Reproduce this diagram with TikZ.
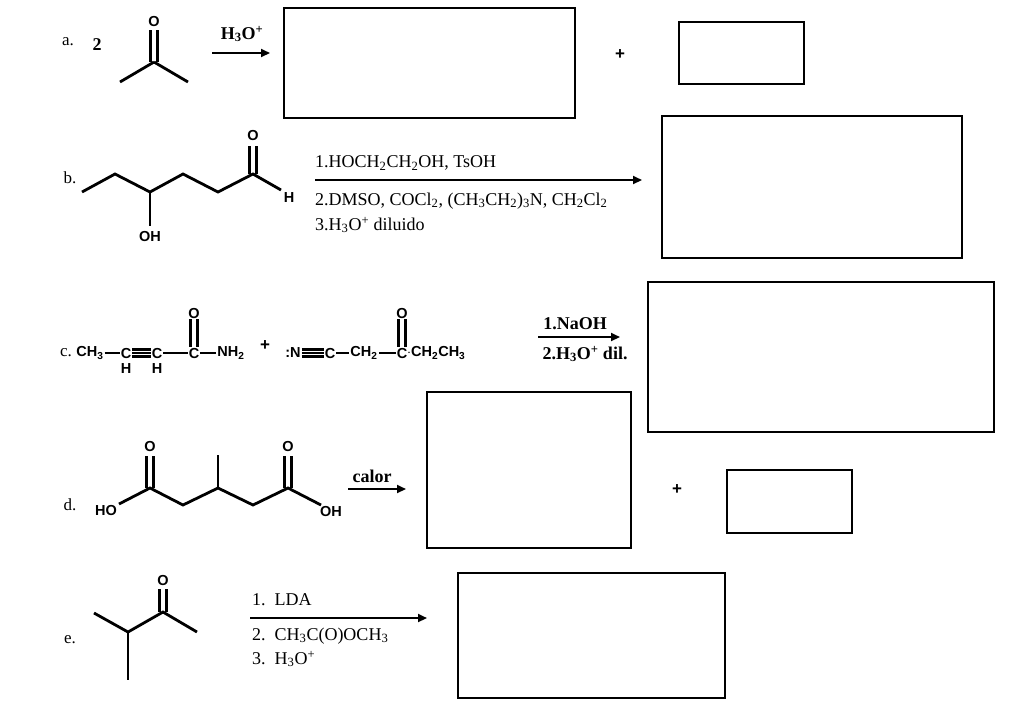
\documentclass[tikz,border=0pt]{standalone}
\usepackage{fontspec}
\usetikzlibrary{arrows.meta}
\setmainfont{Liberation Serif}
\newfontfamily\atomf{Liberation Sans}
\begin{document}
\begin{tikzpicture}[x=1pt,y=-1pt,
  bond/.style={line width=2.8pt},
  box/.style={draw,line width=2.8pt},
  rxn/.style={line width=2pt,-{Triangle[length=9pt,width=8pt]}},
  atom/.style={font=\atomf\bfseries\fontsize{14.5}{14.5}\selectfont,inner sep=1pt},
  lbl/.style={font=\fontsize{17}{17}\selectfont,inner sep=0pt},
  rg/.style={font=\fontsize{18}{21}\selectfont,inner sep=0pt,anchor=west}]
\useasboundingbox (0,0) rectangle (1024,713);
% a
\node[lbl] (la) at (68,42) {a.};
\node[lbl,font=\bfseries\fontsize{18}{18}\selectfont] (n2) at (97,45) {2};
\node[atom] (oa) at (154,22) {O};
\coordinate (ca) at (154,62);
\draw[bond] (ca) -- (120,82) (ca) -- (188,82);
\draw[bond] (150.5,30) -- (150.5,62) (157.5,30) -- (157.5,62);
\coordinate (a1) at (212,53); \coordinate (a2) at (270,53);
\draw[rxn] (a1) -- (a2);
\node[lbl,font=\bfseries\fontsize{18}{18}\selectfont] (ta) at (242,34) {H\textsubscript{3}O\textsuperscript{+}};
\node[box,minimum width=291,minimum height=110] (ba) at (429.5,63) {};
\node[atom,font=\atomf\bfseries\fontsize{17}{17}\selectfont] (pa) at (620,55) {+};
\node[box,minimum width=125,minimum height=62] (ba2) at (741.5,53) {};
% b
\node[lbl] (lb) at (70,178) {b.};
\draw[bond] (82,192)--(115,174)--(150,192)--(183,174)--(218,192)--(253,174)--(281,190);
\draw[bond] (150,192)--(150,226);
\draw[bond] (249.5,174)--(249.5,146) (256.5,174)--(256.5,146);
\node[atom] (ob) at (253,136) {O};
\node[atom] (hb) at (289,198) {H};
\node[atom] (ohb) at (150,237) {OH};
\coordinate (b1) at (315,180); \coordinate (b2) at (642,180);
\draw[rxn] (b1) -- (b2);
\node[rg] (tb1) at (315,163) {1.HOCH\textsubscript{2}CH\textsubscript{2}OH, TsOH};
\node[rg] (tb2) at (315,201) {2.DMSO, COCl\textsubscript{2}, (CH\textsubscript{3}CH\textsubscript{2})\textsubscript{3}N, CH\textsubscript{2}Cl\textsubscript{2}};
\node[rg] (tb3) at (315,225) {3.H\textsubscript{3}O\textsuperscript{+} diluido};
\node[box,minimum width=300,minimum height=142] (bb) at (812,187) {};
% c
\node[lbl,anchor=west] (lc) at (60,353) {c.};
\node[atom] (c1) at (90,353) {CH\textsubscript{3}};
\node[atom] (c2) at (126,353) {C};
\node[atom] (c3) at (157,353) {C};
\node[atom] (c4) at (194,353) {C};
\node[atom] (c5) at (231,353) {NH\textsubscript{2}};
\node[atom] (h2) at (126,369) {H};
\node[atom] (h3) at (157,369) {H};
\node[atom] (oc) at (194,313) {O};
\draw[bond] (c1) -- (c2);
\draw[line width=2.2pt] ([yshift=-3.5]c2.east) -- ([yshift=-3.5]c3.west) (c2.east) -- (c3.west) ([yshift=3.5]c2.east) -- ([yshift=3.5]c3.west);
\draw[bond] (c3) -- (c4); \draw[bond] (c4) -- (c5);
\draw[bond] ([xshift=-3.5]oc.south) -- ([xshift=-3.5]c4.north) ([xshift=3.5]oc.south) -- ([xshift=3.5]c4.north);
\node[atom,font=\atomf\bfseries\fontsize{17}{17}\selectfont] (pc) at (265,346) {+};
\node[atom] (n1) at (293,353) {{:}N};
\node[atom] (d2) at (330,353) {C};
\node[atom] (d3) at (364,353) {CH\textsubscript{2}};
\node[atom] (d4) at (402,353) {C};
\node[atom,anchor=west] (d5) at (406,353) {{$\cdot$}CH\textsubscript{2}CH\textsubscript{3}};
\node[atom] (od) at (402,313) {O};
\draw[line width=2.2pt] ([yshift=-3.5]n1.east) -- ([yshift=-3.5]d2.west) (n1.east) -- (d2.west) ([yshift=3.5]n1.east) -- ([yshift=3.5]d2.west);
\draw[bond] (d2) -- (d3); \draw[bond] (d3) -- (d4);
\draw[bond] ([xshift=-3.5]od.south) -- ([xshift=-3.5]d4.north) ([xshift=3.5]od.south) -- ([xshift=3.5]d4.north);
\coordinate (c6) at (538,337); \coordinate (c7) at (620,337);
\draw[rxn] (c6) -- (c7);
\node[lbl,font=\bfseries\fontsize{18}{18}\selectfont] (tc1) at (575,324) {1.NaOH};
\node[lbl,font=\bfseries\fontsize{18}{18}\selectfont] (tc2) at (585,354) {2.H\textsubscript{3}O\textsuperscript{+} dil.};
\node[box,minimum width=346,minimum height=150] (bc) at (821,357) {};
% d
\node[lbl] (ld) at (70,505) {d.};
\node[atom] (hod) at (106,510) {HO};
\node[atom] (ohd) at (331,511) {OH};
\draw[bond] (119,504)--(150,488)--(183,505)--(218,488)--(253,505)--(288,488)--(321,505);
\draw[bond] (218,488)--(218,455);
\draw[bond] (146.5,488)--(146.5,456) (153.5,488)--(153.5,456);
\draw[bond] (284.5,488)--(284.5,456) (291.5,488)--(291.5,456);
\node[atom] (o1d) at (150,446) {O};
\node[atom] (o2d) at (288,446) {O};
\coordinate (d6) at (348,489); \coordinate (d7) at (406,489);
\draw[rxn] (d6) -- (d7);
\node[lbl,font=\bfseries\fontsize{18}{18}\selectfont] (td) at (372,476) {calor};
\node[box,minimum width=204,minimum height=156] (bd) at (529,470) {};
\node[atom,font=\atomf\bfseries\fontsize{17}{17}\selectfont] (pd) at (677,490) {+};
\node[box,minimum width=125,minimum height=63] (bd2) at (789.5,501.5) {};
% e
\node[lbl] (le) at (70,640) {e.};
\draw[bond] (94,613)--(128,632)--(163,612)--(197,632);
\draw[bond] (128,632)--(128,680);
\draw[bond] (159.5,612)--(159.5,589) (166.5,612)--(166.5,589);
\node[atom] (oe) at (163,580) {O};
\coordinate (e1) at (250,618); \coordinate (e2) at (427,618);
\draw[rxn] (e1) -- (e2);
\node[rg] (te1) at (252,600) {1.\ \ LDA};
\node[rg] (te2) at (252,636) {2.\ \ CH\textsubscript{3}C(O)OCH\textsubscript{3}};
\node[rg] (te3) at (252,659) {3.\ \ H\textsubscript{3}O\textsuperscript{+}};
\node[box,minimum width=267,minimum height=125] (be) at (591.5,635.5) {};
\end{tikzpicture}
\end{document}
